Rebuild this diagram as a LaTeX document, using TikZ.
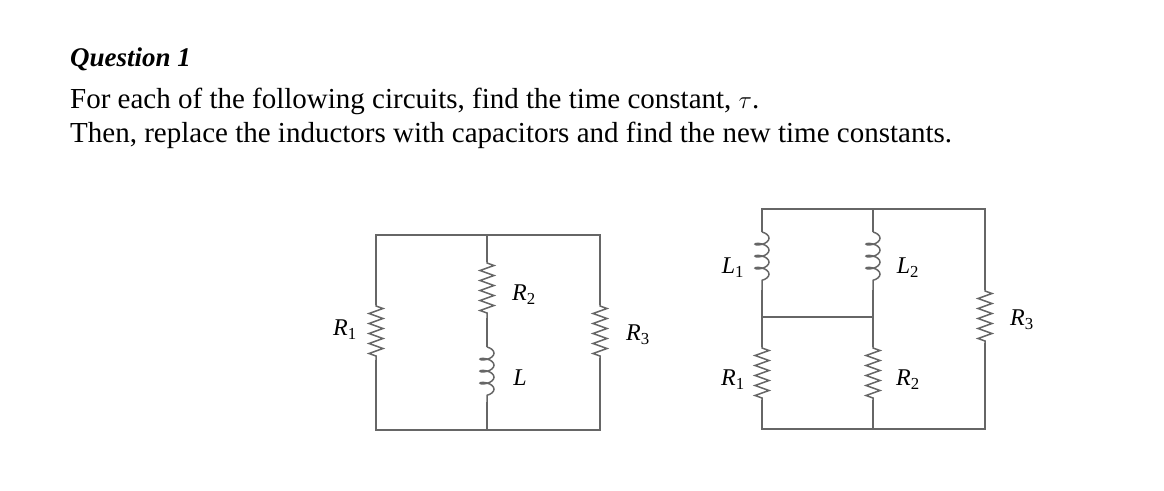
\documentclass[tikz,border=0pt]{standalone}
\usepackage{fontspec}
\setmainfont{Liberation Serif}
\usetikzlibrary{decorations.pathmorphing}
\newcommand{\sbs}[1]{\textsubscript{\upshape #1}}
\begin{document}
\begin{tikzpicture}[x=1pt,y=-1pt,
  wire/.style={draw=black!60,line width=1.5pt},
  res/.style={wire,decorate,decoration={zigzag,segment length=10pt,amplitude=7pt,pre length=1pt,post length=1pt}},
  ind/.style={wire,decorate,decoration={coil,aspect=0.45,segment length=12pt,amplitude=7pt}},
  lbl/.style={font=\fontsize{24}{26}\selectfont\itshape,inner sep=0pt},
  txt/.style={font=\fontsize{29}{33}\selectfont,anchor=base west,inner sep=0pt}]
\useasboundingbox (0,0) rectangle (1164,490);
\node[txt,font=\fontsize{27}{31}\selectfont\bfseries\itshape] (q) at (70,66) {Question 1};
\node[txt] (t1) at (70,108) {For each of the following circuits, find the time constant, $\tau$.};
\node[txt] (t2) at (70,142) {Then, replace the inductors with capacitors and find the new time constants.};
% left circuit
\coordinate (a1) at (376,235); \coordinate (a2) at (487,235); \coordinate (a3) at (600,235);
\coordinate (b1) at (376,430); \coordinate (b2) at (487,430); \coordinate (b3) at (600,430);
\coordinate (r1t) at (376,305); \coordinate (r1b) at (376,360);
\coordinate (r2t) at (487,262); \coordinate (r2b) at (487,318);
\coordinate (lt) at (487,347); \coordinate (lb) at (487,402);
\coordinate (r3t) at (600,305); \coordinate (r3b) at (600,358);
\draw[wire] (r1t) -- (a1) -- (a3) -- (r3t);
\draw[wire] (r1b) -- (b1) -- (b3) -- (r3b);
\draw[wire] (a2) -- (r2t); \draw[wire] (r2b) -- (lt); \draw[wire] (lb) -- (b2);
\draw[res] (r1t) -- (r1b); \draw[res] (r2t) -- (r2b); \draw[res] (r3t) -- (r3b);
\draw[ind] (lt) -- (lb);
\node[lbl] (lR1) at (345,330) {R\sbs{1}};
\node[lbl] (lR2) at (524,295) {R\sbs{2}};
\node[lbl] (lL) at (520,378) {L};
\node[lbl] (lR3) at (638,335) {R\sbs{3}};
% right circuit
\coordinate (c1) at (762,209); \coordinate (c2) at (873,209); \coordinate (c3) at (985,209);
\coordinate (m1) at (762,317); \coordinate (m2) at (873,317);
\coordinate (d1) at (762,429); \coordinate (d2) at (873,429); \coordinate (d3) at (985,429);
\coordinate (l1t) at (762,232); \coordinate (l1b) at (762,290);
\coordinate (l2t) at (873,232); \coordinate (l2b) at (873,290);
\coordinate (s1t) at (762,347); \coordinate (s1b) at (762,400);
\coordinate (s2t) at (873,347); \coordinate (s2b) at (873,400);
\coordinate (s3t) at (985,290); \coordinate (s3b) at (985,343);
\draw[wire] (l1t) -- (c1) -- (c3) -- (s3t);
\draw[wire] (c2) -- (l2t);
\draw[wire] (l1b) -- (m1) -- (m2) -- (l2b);
\draw[wire] (m1) -- (s1t); \draw[wire] (m2) -- (s2t);
\draw[wire] (s1b) -- (d1) -- (d3) -- (s3b); \draw[wire] (s2b) -- (d2);
\draw[ind] (l1t) -- (l1b); \draw[ind] (l2t) -- (l2b);
\draw[res] (s1t) -- (s1b); \draw[res] (s2t) -- (s2b); \draw[res] (s3t) -- (s3b);
\node[lbl] (lL1) at (733,268) {L\sbs{1}};
\node[lbl] (lL2) at (908,268) {L\sbs{2}};
\node[lbl] (lR1b) at (733,380) {R\sbs{1}};
\node[lbl] (lR2b) at (908,380) {R\sbs{2}};
\node[lbl] (lR3b) at (1022,320) {R\sbs{3}};
\end{tikzpicture}
\end{document}
